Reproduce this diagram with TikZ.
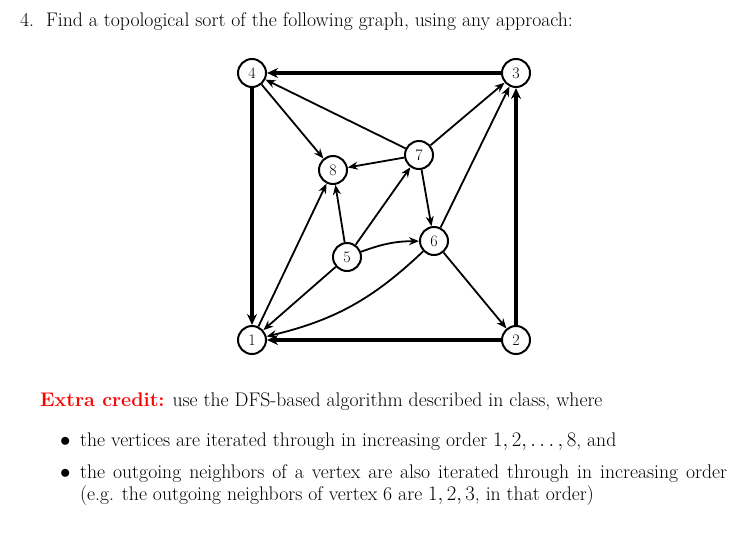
\documentclass[tikz,border=0pt]{standalone}
\usetikzlibrary{arrows.meta}
\begin{document}
\begin{tikzpicture}[x=1pt,y=-1pt,
  vtx/.style={circle,draw,line width=2pt,minimum size=28pt,inner sep=0pt,font=\fontsize{16}{16}\selectfont},
  edge/.style={-{Stealth[length=10pt,width=8pt]},line width=1.8pt},
  thk/.style={-{Stealth[length=11pt,width=10pt]},line width=3.4pt},
  txt/.style={anchor=base west,inner sep=0pt,font=\fontsize{19.7}{23}\selectfont}]
\useasboundingbox (0,0) rectangle (751,541);
\node[txt] (q) at (20,26) {4.\ \ Find a topological sort of the following graph, using any approach:};
\node[vtx] (n4) at (252,73) {4};
\node[vtx] (n3) at (516,73) {3};
\node[vtx] (n8) at (333,170) {8};
\node[vtx] (n7) at (419,155) {7};
\node[vtx] (n6) at (434,241) {6};
\node[vtx] (n5) at (347,257) {5};
\node[vtx] (n1) at (252,340) {1};
\node[vtx] (n2) at (516,340) {2};
\draw[thk] (n3) -- (n4);
\draw[thk] (n4) -- (n1);
\draw[thk] (n2) -- (n1);
\draw[thk] (n2) -- (n3);
\draw[edge] (n4) -- (n8);
\draw[edge] (n7) -- (n4);
\draw[edge] (n7) -- (n3);
\draw[edge] (n7) -- (n8);
\draw[edge] (n7) -- (n6);
\draw[edge] (n5) -- (n8);
\draw[edge] (n5) -- (n7);
\draw[edge] (n5) to[bend left=10] (n6);
\draw[edge] (n5) -- (n1);
\draw[edge] (n1) -- (n8);
\draw[edge] (n6) -- (n3);
\draw[edge] (n6) -- (n2);
\draw[edge] (n6) to[bend left=15] (n1);
\node[txt] (ec) at (40,406) {\textcolor{red}{\textbf{Extra credit:}} use the DFS-based algorithm described in class, where};
\node[txt] (b1) at (60,446) {$\bullet$};
\node[txt] (t1) at (80,446) {the vertices are iterated through in increasing order $1,2,\ldots,8$, and};
\node[txt] (b2) at (60,478) {$\bullet$};
\node[txt] (t2) at (80,478) {\makebox[647pt][s]{the outgoing neighbors of a vertex are also iterated through in increasing order}};
\node[txt] (t3) at (80,500) {(e.g. the outgoing neighbors of vertex 6 are $1,2,3$, in that order)};
\end{tikzpicture}
\end{document}
